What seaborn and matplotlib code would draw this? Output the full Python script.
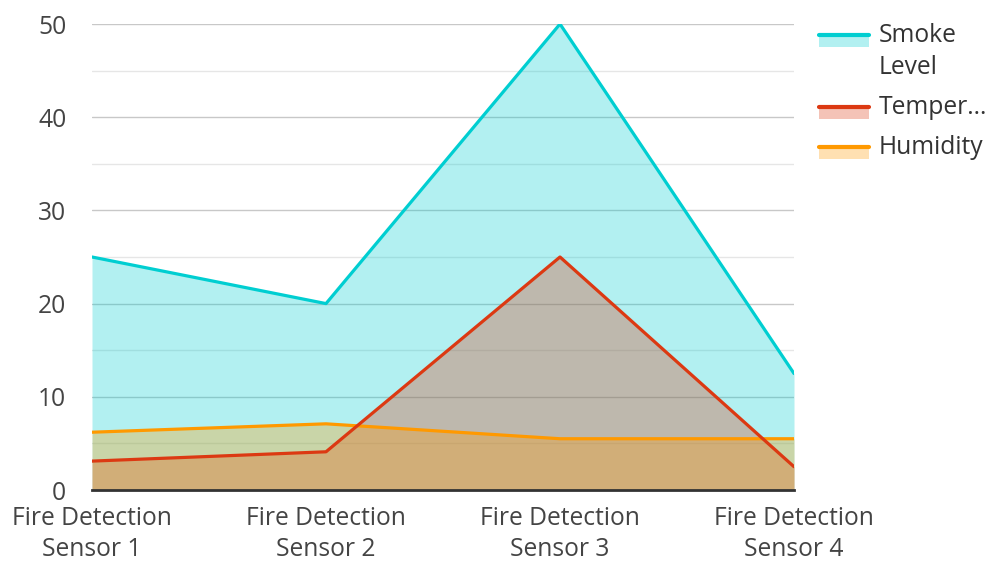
import matplotlib
matplotlib.use("Agg")
import matplotlib.pyplot as plt
import seaborn as sns
import pandas as pd
from matplotlib.patches import Rectangle
from matplotlib.lines import Line2D

categories = ["Fire Detection\nSensor 1", "Fire Detection\nSensor 2",
              "Fire Detection\nSensor 3", "Fire Detection\nSensor 4"]
smoke = [25, 20, 50, 12.5]
temperature = [3.1, 4.1, 25, 2.5]
humidity = [6.2, 7.1, 5.5, 5.5]
series_names = ["Smoke\nLevel", "Temper...", "Humidity"]
colors = ["#00CED1", "#DC3912", "#FF9900"]

sns.set_theme(style="white")
plt.rcParams['font.family'] = ['Open Sans', 'DejaVu Sans']

FS = 17.7

fig = plt.figure(figsize=(9.88, 5.62), dpi=100)
ax = fig.add_axes([92/988, 1-490/562, (794-92)/988, (490-24)/562])

x = list(range(len(categories)))
df = pd.DataFrame({"x": x * 3,
                   "value": smoke + temperature + humidity,
                   "series": ["smoke"] * 4 + ["temp"] * 4 + ["hum"] * 4})

for vals, c in zip([smoke, temperature, humidity], colors):
    ax.fill_between(x, 0, vals, color=c, alpha=0.3, linewidth=0, zorder=2)

sns.lineplot(data=df, x="x", y="value", hue="series",
             hue_order=["hum", "temp", "smoke"],
             palette={"smoke": colors[0], "temp": colors[1], "hum": colors[2]},
             linewidth=2.3, legend=False, ax=ax, zorder=3)

ax.set_xlim(0, 3)
ax.set_ylim(0, 50)
ax.set_yticks([0, 10, 20, 30, 40, 50])
ax.set_yticks([5, 15, 25, 35, 45], minor=True)
ax.grid(axis="y", which="major", color="#c8c8c8", linewidth=1, zorder=1)
ax.grid(axis="y", which="minor", color="#e6e6e6", linewidth=1, zorder=1)
ax.set_axisbelow(True)
ax.set_xticks(x)
ax.set_xticklabels(categories)
ax.set_xlabel("")
ax.set_ylabel("")
for s in ["top", "right", "left"]:
    ax.spines[s].set_visible(False)
ax.spines["bottom"].set_color("#333333")
ax.spines["bottom"].set_linewidth(2)
ax.spines["bottom"].set_zorder(5)
ax.tick_params(axis="both", which="both", length=0, labelsize=FS, colors="#444444")
ax.tick_params(axis="y", pad=18.5)
ax.tick_params(axis="x", pad=11.5)
for lbl in ax.get_xticklabels():
    lbl.set_linespacing(1.3)
ax.patch.set_alpha(0)

# legend
legend_line_y = [35, 107, 147]
text_y = [51.5, 107, 148]
for name, c, yy, ty in zip(series_names, colors, legend_line_y, text_y):
    x0, x1 = 819/988, 869/988
    top = 1 - yy / 562
    fig.add_artist(Rectangle((x0, top - 12/562), x1 - x0, 12/562,
                             transform=fig.transFigure, facecolor=c, alpha=0.3,
                             edgecolor="none"))
    fig.add_artist(Line2D([x0, x1], [top, top], transform=fig.transFigure,
                          color=c, linewidth=3))
    fig.text(879/988, 1 - ty / 562, name, ha="left", va="center",
             fontsize=FS, color="#333333", linespacing=1.32)

fig.savefig("out.png", dpi=100)
